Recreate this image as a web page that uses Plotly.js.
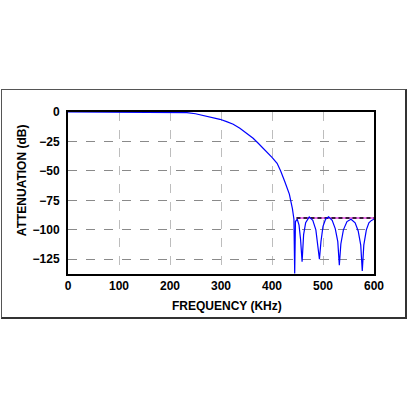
<!DOCTYPE html>
<html>
<head>
<meta charset="utf-8">
<script src="https://cdn.plot.ly/plotly-3.0.1.min.js"></script>
<style>
  body { margin: 0; background: #fff; }
  #frame { position: absolute; left: 1px; top: 89px; width: 403px; height: 227px;
           border: 1px solid #555; border-right: 2px solid #333; border-bottom: 2px solid #333; }
  #chart { position: absolute; left: 0; top: 0; width: 420px; height: 420px; }
</style>
</head>
<body>
<div id="frame"></div>
<div id="chart"></div>
<script>
// filter response (kHz, dB)
var freq = [0, 100, 200, 233, 250, 265, 285, 298, 311, 324, 337, 350, 363, 373, 383, 392, 400, 410, 417, 425, 434, 440, 443,
  444.5, 446, 449.5, 453, 456, 459, 462, 466, 473, 480, 486, 490, 493, 496, 500, 505, 511, 518, 524, 529, 532,
  535, 540, 547, 555, 563, 569, 574, 577, 580, 585, 590, 595, 600];
var atten = [0, 0, 0, -0.5, -1.5, -2.8, -4.8, -6.2, -8.2, -10.4, -13.8, -18, -22.3, -26.5, -30.8, -34.5, -38.5, -43.5, -50, -59, -69.7, -82, -91,
  -137, -93, -91, -96, -108, -127, -104, -94, -89, -92, -100, -112, -125, -110, -97, -91, -89, -92, -99, -110, -130,
  -112, -100, -93, -91, -94, -101, -113, -135, -113, -100, -94, -92, -91];

// stopband spec line
var specFreq = [448, 600];
var specAtten = [-90, -90];

var xTicks = [0, 100, 200, 300, 400, 500, 600];
var yTicks = [0, -25, -50, -75, -100, -125];

var tickFont = {family: 'Liberation Sans, Arial, sans-serif', size: 12, color: '#000', weight: 'bold'};

var traces = [
  {x: specFreq, y: specAtten, mode: 'lines', line: {color: '#e040e0', width: 1.5}, hoverinfo: 'skip'},
  {x: specFreq, y: specAtten, mode: 'lines', line: {color: '#000', width: 1.5, dash: '4px,3px'}, hoverinfo: 'skip'},
  {x: freq, y: atten, mode: 'lines', line: {color: '#0000ff', width: 1.2}}
];

var layout = {
  width: 420, height: 420,
  margin: {l: 68, r: 46, t: 112, b: 146},
  paper_bgcolor: 'rgba(0,0,0,0)',
  plot_bgcolor: '#fff',
  showlegend: false,
  xaxis: {
    range: [0, 600], tickvals: xTicks, ticks: '', tickfont: tickFont,
    showline: true, mirror: true, linecolor: '#000', linewidth: 2,
    showgrid: true, gridcolor: '#bdbdbd', griddash: 'dash', gridwidth: 1, zeroline: false
  },
  yaxis: {
    range: [-137.5, 0], tickvals: yTicks, ticks: '', tickfont: tickFont, ticklabelstandoff: 4,
    showline: true, mirror: true, linecolor: '#000', linewidth: 2,
    showgrid: true, gridcolor: '#8a8a8a', griddash: 'dash', gridwidth: 1, zeroline: false
  },
  annotations: [
    {text: 'FREQUENCY (KHz)', xref: 'paper', yref: 'paper', x: 0.52, y: -0.2, xanchor: 'center', yanchor: 'middle',
     showarrow: false, font: tickFont},
    {text: 'ATTENUATION (dB)', xref: 'paper', yref: 'paper', x: -0.15, y: 0.58, xanchor: 'center', yanchor: 'middle',
     textangle: -90, showarrow: false, font: tickFont}
  ]
};

Plotly.newPlot('chart', traces, layout, {displayModeBar: false, staticPlot: true});
</script>
</body>
</html>
